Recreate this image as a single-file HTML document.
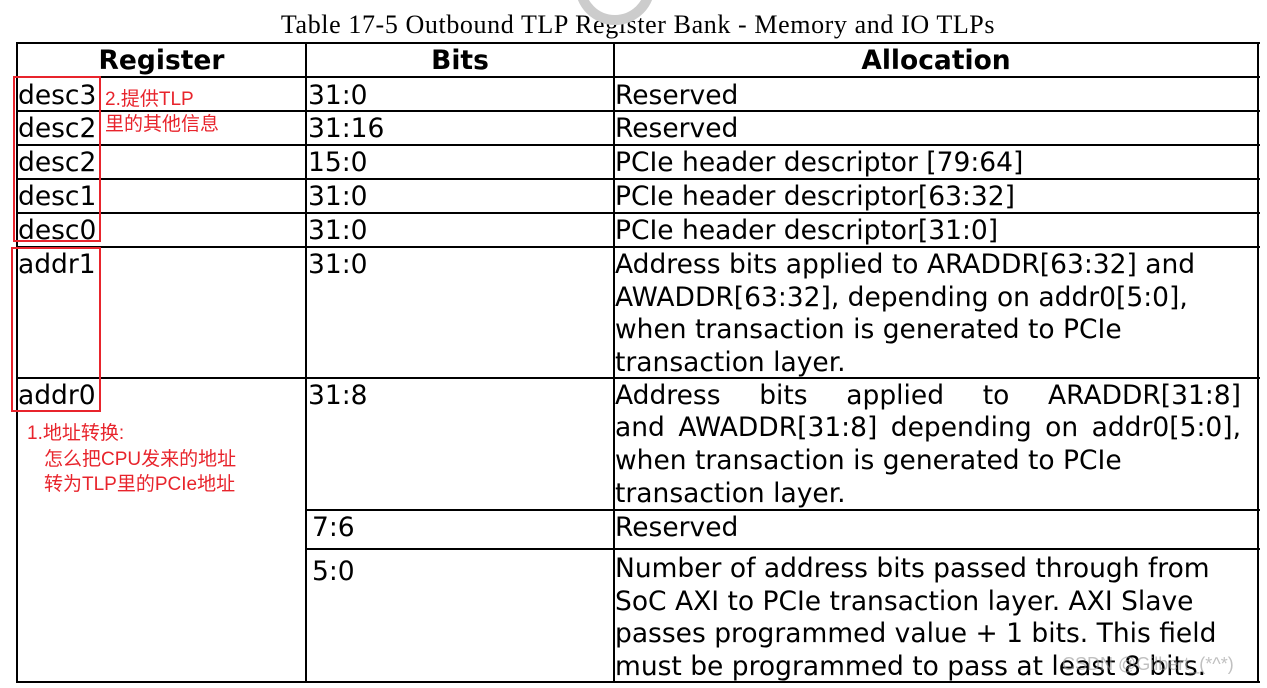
<!DOCTYPE html>
<html><head><meta charset="utf-8"><style>
body{margin:0;width:1267px;height:688px;background:#fff;position:relative;overflow:hidden;font-family:"DejaVu Sans","Liberation Sans",sans-serif;color:#000}
.t{position:absolute;font-size:26.5px;white-space:nowrap;line-height:32.5px}
.h{position:absolute;height:2px;background:#000}
.v{position:absolute;width:2px;background:#000}
.b{font-weight:bold;font-size:26.5px;position:absolute;text-align:center;line-height:34px}
.r{position:absolute;border:2px solid #e8242c}
.rt{position:absolute;color:#e8242c;font-family:"Liberation Sans","Noto Sans CJK SC",sans-serif;font-size:19px;line-height:25px;white-space:nowrap}
.j{text-align:justify;text-align-last:justify;width:626px}
</style></head><body>
<div style="position:absolute;left:0;width:1276px;top:10px;text-align:center;font-family:'Liberation Serif','DejaVu Serif',serif;font-size:26px;letter-spacing:0.6px;line-height:30px">Table 17-5 Outbound TLP Register Bank - Memory and IO TLPs</div>
<div style="position:absolute;left:575px;top:-55px;width:60px;height:60px;border-radius:50%;border:10px solid #ccc"></div>
<div class="h" style="left:16px;width:1244px;top:42px"></div>
<div class="h" style="left:16px;width:1244px;top:76px"></div>
<div class="h" style="left:16px;width:1244px;top:110px"></div>
<div class="h" style="left:16px;width:1244px;top:144px"></div>
<div class="h" style="left:16px;width:1244px;top:178px"></div>
<div class="h" style="left:16px;width:1244px;top:212px"></div>
<div class="h" style="left:16px;width:1244px;top:246px"></div>
<div class="h" style="left:16px;width:1244px;top:377px"></div>
<div class="h" style="left:305px;width:955px;top:509px"></div>
<div class="h" style="left:305px;width:955px;top:548px"></div>
<div class="h" style="left:16px;width:1244px;top:681px"></div>
<div class="v" style="left:16px;top:42px;height:641px"></div>
<div class="v" style="left:305px;top:42px;height:641px"></div>
<div class="v" style="left:613px;top:42px;height:641px"></div>
<div class="v" style="left:1257px;top:42px;height:641px"></div>
<div class="b" style="left:18px;width:287px;top:44px">Register</div>
<div class="b" style="left:307px;width:306px;top:44px">Bits</div>
<div class="b" style="left:615px;width:642px;top:44px">Allocation</div>
<div class="t" style="left:18px;top:80px">desc3</div>
<div class="t" style="left:18px;top:113px">desc2</div>
<div class="t" style="left:18px;top:147px">desc2</div>
<div class="t" style="left:18px;top:181px">desc1</div>
<div class="t" style="left:18px;top:215px">desc0</div>
<div class="t" style="left:18px;top:249px">addr1</div>
<div class="t" style="left:18px;top:380px">addr0</div>
<div class="t" style="left:308px;top:80px">31:0</div>
<div class="t" style="left:308px;top:113px">31:16</div>
<div class="t" style="left:308px;top:147px">15:0</div>
<div class="t" style="left:308px;top:181px">31:0</div>
<div class="t" style="left:308px;top:215px">31:0</div>
<div class="t" style="left:308px;top:249px">31:0</div>
<div class="t" style="left:308px;top:380px">31:8</div>
<div class="t" style="left:312px;top:512px">7:6</div>
<div class="t" style="left:312px;top:556px">5:0</div>
<div class="t" style="left:615px;top:80px">Reserved</div>
<div class="t" style="left:615px;top:113px">Reserved</div>
<div class="t" style="left:615px;top:147px">PCIe header descriptor [79:64]</div>
<div class="t" style="left:615px;top:181px">PCIe header descriptor[63:32]</div>
<div class="t" style="left:615px;top:215px">PCIe header descriptor[31:0]</div>
<div class="t" style="left:615px;top:249px">Address bits applied to ARADDR[63:32] and<br>AWADDR[63:32], depending on addr0[5:0],<br>when transaction is generated to PCIe<br>transaction layer.</div>
<div class="t j" style="left:615px;top:380px">Address bits applied to ARADDR[31:8]</div>
<div class="t j" style="left:615px;top:412px">and AWADDR[31:8] depending on addr0[5:0],</div>
<div class="t" style="left:615px;top:445px">when transaction is generated to PCIe<br>transaction layer.</div>
<div class="t" style="left:615px;top:512px">Reserved</div>
<div class="t" style="left:615px;top:553px">Number of address bits passed through from<br>SoC AXI to PCIe transaction layer. AXI Slave<br>passes programmed value + 1 bits. This field<br>must be programmed to pass at least 8 bits.</div>
<div class="r" style="left:13px;top:76px;width:84px;height:162px"></div>
<div class="r" style="left:11px;top:247px;width:86px;height:161px"></div>
<div class="rt" style="left:105px;top:87px">2.提供TLP<br>里的其他信息</div>
<div class="rt" style="left:27px;top:421px">1.地址转换:</div>
<div class="rt" style="left:44px;top:447px">怎么把CPU发来的地址<br>转为TLP里的PCIe地址</div>
<div style="position:absolute;left:1062px;top:654px;color:rgba(150,150,150,0.6);font-family:'Liberation Sans',sans-serif;font-size:18px">CSDN @Gilbert_(*^*)</div>
</body></html>
